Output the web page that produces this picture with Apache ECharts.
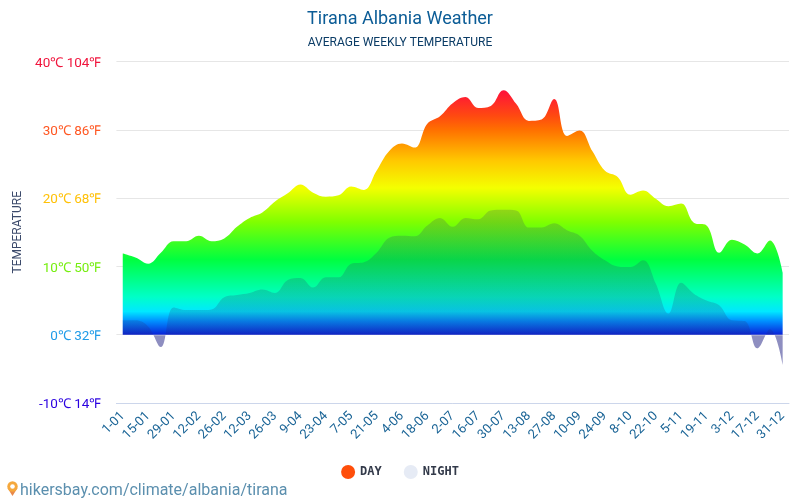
<!DOCTYPE html>
<html><head><meta charset="utf-8">
<style>html,body{margin:0;padding:0;background:#fff}#c{width:800px;height:500px}</style>
<script src="https://cdn.jsdelivr.net/npm/echarts@6/dist/echarts.min.js"></script>
</head><body><div id="c"></div>
<script>
const categories=['1-01','8-01','15-01','22-01','29-01','5-02','12-02','19-02','26-02','5-03','12-03','19-03','26-03','2-04','9-04','16-04','23-04','30-04','7-05','14-05','21-05','28-05','4-06','11-06','18-06','25-06','2-07','9-07','16-07','23-07','30-07','6-08','13-08','20-08','27-08','3-09','10-09','17-09','24-09','1-10','8-10','15-10','22-10','29-10','5-11','12-11','19-11','26-11','3-12','10-12','17-12','24-12','31-12'];
const dayValues=[11.9,11.3,10.4,12,13.7,13.7,14.5,13.7,14.1,15.8,17.1,17.9,19.5,20.7,22,20.8,20.2,20.4,21.7,21.2,24,26.9,28,27.4,30.9,32,33.9,34.8,33.2,33.5,35.8,33.8,31.3,31.5,34.5,29.1,29.9,26.9,24,23.1,20.5,21.1,19.9,18.8,19.2,16.4,16,12,13.9,13.2,11.9,13.8,9.1];
const nightValues=[2.1,2.1,1.2,-1.8,4,3.6,3.6,3.7,5.5,5.8,6.1,6.6,6.1,8,8.3,6.9,8.4,8.4,10.4,10.6,12,14.2,14.5,14.4,16,17.1,15.8,17.1,16.9,18.2,18.3,18.2,15.7,15.7,16.3,15.3,14.5,12.3,10.9,10,9.9,10.9,7.5,3.1,7.6,6,5,4.3,2.1,2,-2,0.8,-4.4];
const tempTicks=[-10,0,10,20,30,40];
const tickLabels={'-10':'-10℃ 14℉','0':'0℃ 32℉','10':'10℃ 50℉','20':'20℃ 68℉','30':'30℃ 86℉','40':'40℃ 104℉'};
const tickColors={'-10':'#2a00e0','0':'#1e9be8','10':'#76ee10','20':'#ffc107','30':'#ff5722','40':'#f0143c'};

const plotTop=61.5,plotBottom=403,span=50;
const stop=v=>(40-v)/span;
const dayGrad=new echarts.graphic.LinearGradient(0,plotTop,0,plotBottom,[
 {offset:stop(40),color:'#ff0050'},{offset:stop(35.5),color:'#ff1438'},{offset:stop(32),color:'#ff4a10'},{offset:stop(30),color:'#ff7000'},
 {offset:stop(25.5),color:'#ffc800'},{offset:stop(21.5),color:'#f4ff00'},{offset:stop(16.5),color:'#80ff00'},
 {offset:stop(11),color:'#00ff40'},{offset:stop(5.5),color:'#00ffc8'},{offset:stop(3.4),color:'#00e8ff'},
 {offset:stop(2),color:'#0090ff'},{offset:stop(0),color:'#0a22d8'},{offset:stop(-10),color:'#2a00e0'}],true);
const nightGrad=new echarts.graphic.LinearGradient(0,plotTop,0,plotBottom,[
 {offset:stop(40),color:'rgba(60,60,110,0.2)'},{offset:stop(0),color:'rgba(40,40,110,0.2)'},
 {offset:stop(-0.2),color:'rgba(30,30,130,0.5)'},{offset:stop(-10),color:'rgba(30,30,130,0.5)'}],true);

const chart=echarts.init(document.getElementById('c'),null,{renderer:'canvas'});
chart.setOption({
 animation:false,
 textStyle:{fontFamily:'Roboto'},
 title:{text:'Tirana Albania Weather',subtext:'AVERAGE WEEKLY TEMPERATURE',left:'center',top:5,itemGap:9,
  textStyle:{fontFamily:'Roboto',fontSize:18,fontWeight:'normal',color:'#0b5c96'},
  subtextStyle:{fontFamily:'Roboto',fontSize:12,color:'#0b3c66'}},
 legend:{bottom:16,left:'center',icon:'circle',itemWidth:14,itemHeight:14,itemGap:22,
  textStyle:{fontFamily:'DejaVu Sans Mono',fontWeight:'bold',fontSize:12,color:'#333a4a'},
  data:[{name:'DAY',itemStyle:{color:'#ff4e0a'}},{name:'NIGHT',itemStyle:{color:'#e6ebf5'}}]},
 grid:{left:116.4,right:11,top:plotTop,bottom:97},
 xAxis:{type:'category',data:categories,boundaryGap:true,
  axisLine:{onZero:false,lineStyle:{color:'#ccd6eb'}},
  axisTick:{alignWithLabel:true,interval:1,length:10,lineStyle:{color:'#ccd6eb'}},
  axisLabel:{interval:1,rotate:45,color:'#1a6496',fontSize:13,margin:11,fontFamily:'Roboto'},
  splitLine:{show:false}},
 yAxis:{type:'value',min:tempTicks[0],max:tempTicks[tempTicks.length-1],interval:10,
  name:'TEMPERATURE',nameLocation:'middle',nameGap:79,nameRotate:90,
  nameTextStyle:{color:'#3c4a6b',fontSize:12,fontFamily:'Roboto'},
  axisLine:{show:false},axisTick:{show:false},
  splitLine:{lineStyle:{color:'#e6e6e6'}},
  axisLabel:{margin:15,fontSize:13.5,fontFamily:'Roboto',
   formatter:v=>'{c'+(v<0?'n':'')+Math.abs(v)+'|'+tickLabels[v]+'}',
   rich:Object.fromEntries(tempTicks.map(v=>['c'+(v<0?'n':'')+Math.abs(v),{color:tickColors[v],fontSize:13.5,fontFamily:'Roboto',padding:[4,0,0,0]}]))}},
 series:[
  {name:'DAY',type:'line',smooth:0.4,data:dayValues,symbol:'none',lineStyle:{width:0},
   itemStyle:{color:'#ff4e0a'},areaStyle:{color:dayGrad,opacity:1}},
  {name:'NIGHT',type:'line',smooth:0.4,data:nightValues,symbol:'none',lineStyle:{width:0},
   itemStyle:{color:'#e6ebf5'},areaStyle:{color:nightGrad,opacity:1}}
 ],
 graphic:[
  {type:'text',left:20,top:483,style:{text:'hikersbay.com/climate/albania/tirana',font:'16px Roboto',fill:'#5b8fae'}},
  {type:'polygon',shape:{points:[[7.5,488],[17.5,488],[12.5,496]]},style:{fill:'#e8884a'}},
  {type:'circle',shape:{cx:12.5,cy:486.5,r:5.2},style:{fill:'#f5a83c'}},
  {type:'circle',shape:{cx:12.5,cy:486.5,r:2.3},style:{fill:'#fff'}}
 ]
});
</script></body></html>
